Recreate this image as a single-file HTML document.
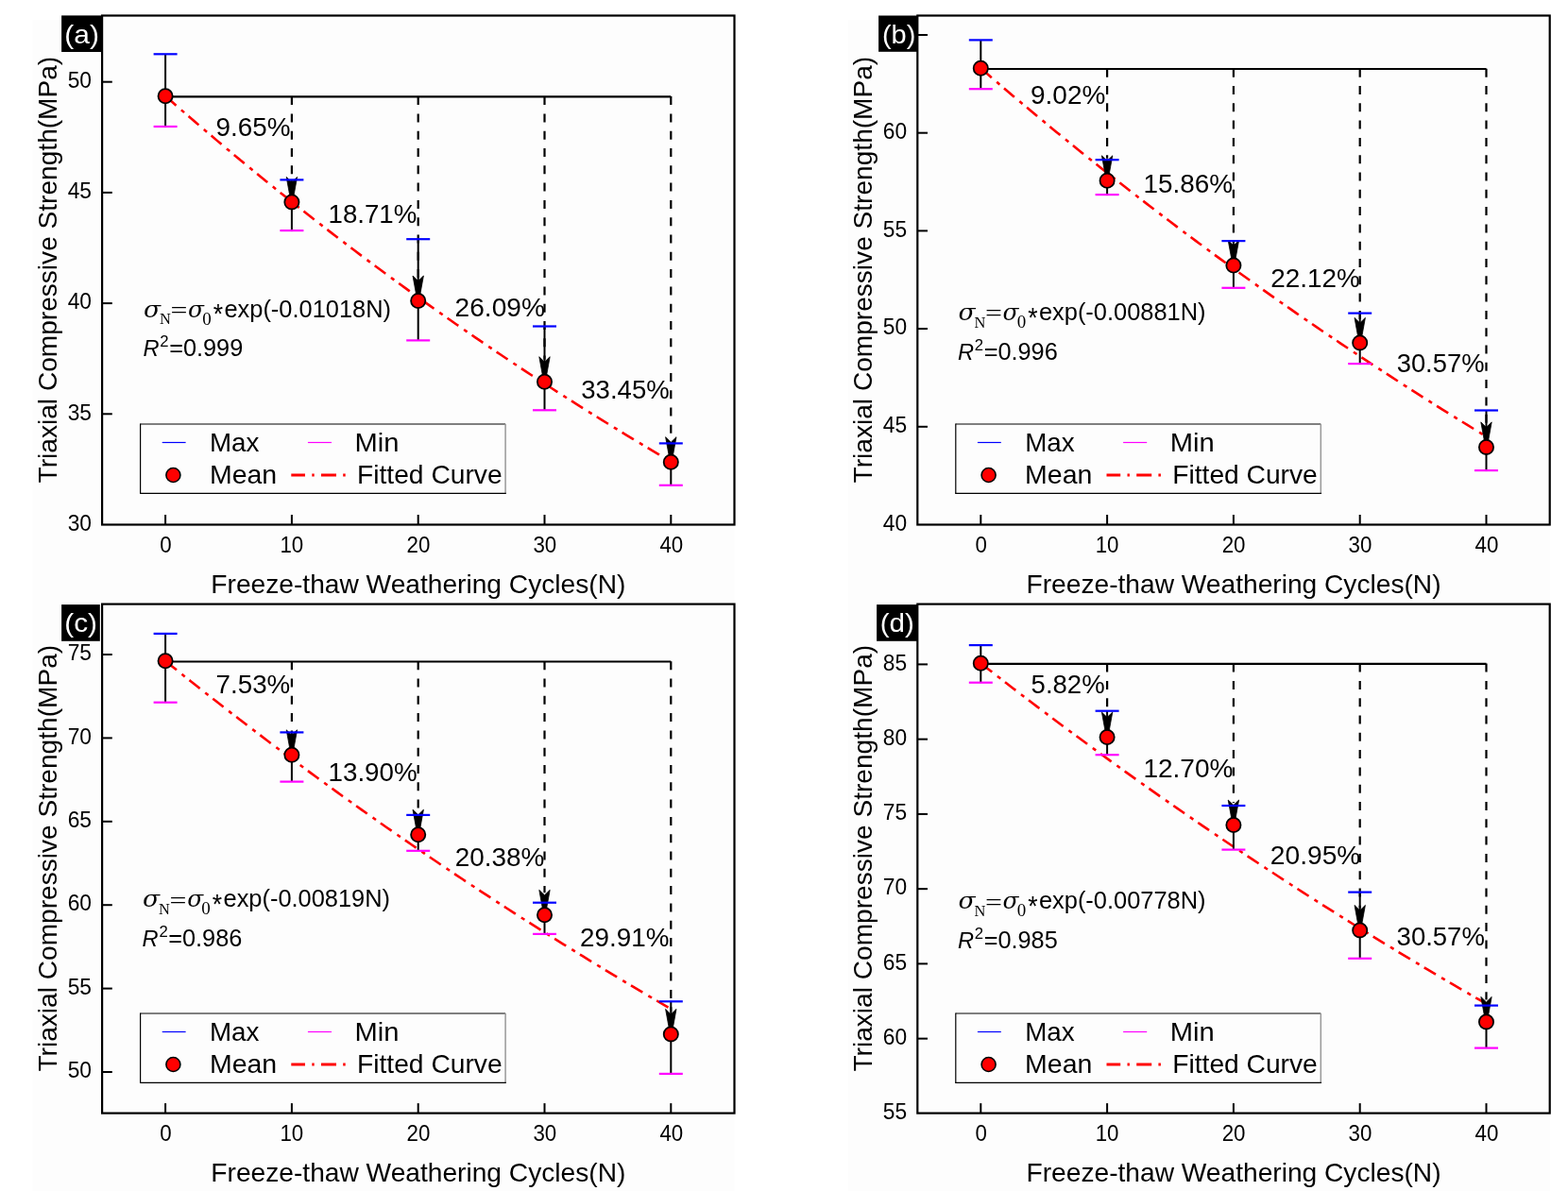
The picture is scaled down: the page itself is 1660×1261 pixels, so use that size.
<!DOCTYPE html>
<html><head><meta charset="utf-8"><title>Triaxial compressive strength vs freeze-thaw cycles</title>
<style>html,body{margin:0;padding:0;background:#fff;}svg{display:block;}</style></head>
<body>
<svg width="1660" height="1261" viewBox="0 0 1660 1261">
<rect width="1660" height="1261" fill="#fff"/>
<rect x="34.5" y="21.0" width="743.0" height="619.0" fill="#fdfdfd"/>
<rect x="897.7" y="21.0" width="743.0" height="619.0" fill="#fdfdfd"/>
<rect x="34.5" y="640.0" width="743.0" height="621.0" fill="#fdfdfd"/>
<rect x="897.7" y="640.0" width="743.0" height="621.0" fill="#fdfdfd"/>
<polyline points="175.10,101.70 181.79,107.57 188.48,113.42 195.17,119.23 201.86,125.02 208.55,130.77 215.24,136.50 221.93,142.20 228.62,147.87 235.31,153.51 242.00,159.12 248.69,164.70 255.38,170.25 262.07,175.78 268.76,181.28 275.45,186.75 282.14,192.19 288.83,197.61 295.52,202.99 302.21,208.35 308.90,213.69 315.59,218.99 322.28,224.27 328.97,229.52 335.66,234.75 342.35,239.95 349.04,245.12 355.73,250.26 362.42,255.38 369.11,260.48 375.80,265.55 382.49,270.59 389.18,275.61 395.87,280.60 402.56,285.56 409.25,290.50 415.94,295.42 422.63,300.31 429.32,305.17 436.01,310.02 442.70,314.83 449.39,319.62 456.08,324.39 462.77,329.14 469.46,333.86 476.15,338.55 482.84,343.22 489.53,347.87 496.22,352.49 502.91,357.10 509.60,361.67 516.29,366.23 522.98,370.76 529.67,375.27 536.36,379.75 543.05,384.21 549.74,388.65 556.43,393.07 563.12,397.47 569.81,401.84 576.50,406.19 583.19,410.52 589.88,414.82 596.57,419.11 603.26,423.37 609.95,427.61 616.64,431.83 623.33,436.03 630.02,440.21 636.71,444.36 643.40,448.50 650.09,452.61 656.78,456.70 663.47,460.77 670.16,464.83 676.85,468.86 683.54,472.87 690.23,476.86 696.92,480.83 703.61,484.77 710.30,488.70" fill="none" stroke="#ff0000" stroke-width="2.6" stroke-dasharray="14.3 7.1 4.2 6" stroke-dashoffset="30.7"/>
<line x1="175.10" y1="102.40" x2="710.30" y2="102.40" stroke="#000" stroke-width="2.2"/>
<line x1="308.90" y1="102.10" x2="308.90" y2="190.40" stroke="#000" stroke-width="2.2" stroke-dasharray="9 9.3"/>
<line x1="442.70" y1="102.10" x2="442.70" y2="295.00" stroke="#000" stroke-width="2.2" stroke-dasharray="9 9.3"/>
<line x1="576.50" y1="102.10" x2="576.50" y2="380.70" stroke="#000" stroke-width="2.2" stroke-dasharray="9 9.3"/>
<line x1="710.30" y1="102.10" x2="710.30" y2="465.70" stroke="#000" stroke-width="2.2" stroke-dasharray="9 9.3"/>
<polygon points="303.20,187.40 308.90,192.90 314.60,187.40 309.50,215.40 308.30,215.40" fill="#000" stroke="#000" stroke-width="0.8" stroke-linejoin="round"/>
<polygon points="437.00,292.00 442.70,297.50 448.40,292.00 443.30,320.00 442.10,320.00" fill="#000" stroke="#000" stroke-width="0.8" stroke-linejoin="round"/>
<polygon points="570.80,377.70 576.50,383.20 582.20,377.70 577.10,405.70 575.90,405.70" fill="#000" stroke="#000" stroke-width="0.8" stroke-linejoin="round"/>
<polygon points="704.60,462.70 710.30,468.20 716.00,462.70 710.90,490.70 709.70,490.70" fill="#000" stroke="#000" stroke-width="0.8" stroke-linejoin="round"/>
<line x1="175.10" y1="57.30" x2="175.10" y2="134.00" stroke="#000" stroke-width="2"/>
<line x1="162.60" y1="57.30" x2="187.60" y2="57.30" stroke="#0000ff" stroke-width="2.2"/>
<line x1="162.60" y1="134.00" x2="187.60" y2="134.00" stroke="#ff00ff" stroke-width="2.2"/>
<line x1="308.90" y1="190.40" x2="308.90" y2="244.10" stroke="#000" stroke-width="2"/>
<line x1="296.40" y1="190.40" x2="321.40" y2="190.40" stroke="#0000ff" stroke-width="2.2"/>
<line x1="296.40" y1="244.10" x2="321.40" y2="244.10" stroke="#ff00ff" stroke-width="2.2"/>
<line x1="442.70" y1="253.20" x2="442.70" y2="360.40" stroke="#000" stroke-width="2"/>
<line x1="430.20" y1="253.20" x2="455.20" y2="253.20" stroke="#0000ff" stroke-width="2.2"/>
<line x1="430.20" y1="360.40" x2="455.20" y2="360.40" stroke="#ff00ff" stroke-width="2.2"/>
<line x1="576.50" y1="345.50" x2="576.50" y2="434.30" stroke="#000" stroke-width="2"/>
<line x1="564.00" y1="345.50" x2="589.00" y2="345.50" stroke="#0000ff" stroke-width="2.2"/>
<line x1="564.00" y1="434.30" x2="589.00" y2="434.30" stroke="#ff00ff" stroke-width="2.2"/>
<line x1="710.30" y1="469.40" x2="710.30" y2="513.80" stroke="#000" stroke-width="2"/>
<line x1="697.80" y1="469.40" x2="722.80" y2="469.40" stroke="#0000ff" stroke-width="2.2"/>
<line x1="697.80" y1="513.80" x2="722.80" y2="513.80" stroke="#ff00ff" stroke-width="2.2"/>
<circle cx="175.10" cy="101.70" r="7.6" fill="#ff0000" stroke="#000" stroke-width="1.8"/>
<circle cx="308.90" cy="213.90" r="7.6" fill="#ff0000" stroke="#000" stroke-width="1.8"/>
<circle cx="442.70" cy="318.50" r="7.6" fill="#ff0000" stroke="#000" stroke-width="1.8"/>
<circle cx="576.50" cy="404.20" r="7.6" fill="#ff0000" stroke="#000" stroke-width="1.8"/>
<circle cx="710.30" cy="489.20" r="7.6" fill="#ff0000" stroke="#000" stroke-width="1.8"/>
<rect x="108.10" y="16.50" width="669.40" height="539.00" fill="none" stroke="#000" stroke-width="2.2"/>
<line x1="175.10" y1="555.50" x2="175.10" y2="545.00" stroke="#000" stroke-width="2"/>
<line x1="308.90" y1="555.50" x2="308.90" y2="545.00" stroke="#000" stroke-width="2"/>
<line x1="442.70" y1="555.50" x2="442.70" y2="545.00" stroke="#000" stroke-width="2"/>
<line x1="576.50" y1="555.50" x2="576.50" y2="545.00" stroke="#000" stroke-width="2"/>
<line x1="710.30" y1="555.50" x2="710.30" y2="545.00" stroke="#000" stroke-width="2"/>
<line x1="108.10" y1="438.30" x2="118.80" y2="438.30" stroke="#000" stroke-width="2"/>
<line x1="108.10" y1="321.10" x2="118.80" y2="321.10" stroke="#000" stroke-width="2"/>
<line x1="108.10" y1="203.90" x2="118.80" y2="203.90" stroke="#000" stroke-width="2"/>
<line x1="108.10" y1="86.70" x2="118.80" y2="86.70" stroke="#000" stroke-width="2"/>
<text x="71.64" y="561.70" font-family='"Liberation Sans", Arial, sans-serif' font-size="23.00" fill="#000" textLength="25.33" lengthAdjust="spacingAndGlyphs">30</text>
<text x="71.64" y="444.50" font-family='"Liberation Sans", Arial, sans-serif' font-size="23.00" fill="#000" textLength="25.33" lengthAdjust="spacingAndGlyphs">35</text>
<text x="71.64" y="327.30" font-family='"Liberation Sans", Arial, sans-serif' font-size="23.00" fill="#000" textLength="25.33" lengthAdjust="spacingAndGlyphs">40</text>
<text x="71.64" y="210.10" font-family='"Liberation Sans", Arial, sans-serif' font-size="23.00" fill="#000" textLength="25.33" lengthAdjust="spacingAndGlyphs">45</text>
<text x="71.64" y="92.90" font-family='"Liberation Sans", Arial, sans-serif' font-size="23.00" fill="#000" textLength="25.33" lengthAdjust="spacingAndGlyphs">50</text>
<text x="169.21" y="585.30" font-family='"Liberation Sans", Arial, sans-serif' font-size="23.00" fill="#000" textLength="12.41" lengthAdjust="spacingAndGlyphs">0</text>
<text x="296.43" y="585.30" font-family='"Liberation Sans", Arial, sans-serif' font-size="23.00" fill="#000" textLength="24.82" lengthAdjust="spacingAndGlyphs">10</text>
<text x="430.51" y="585.30" font-family='"Liberation Sans", Arial, sans-serif' font-size="23.00" fill="#000" textLength="24.82" lengthAdjust="spacingAndGlyphs">20</text>
<text x="564.42" y="585.30" font-family='"Liberation Sans", Arial, sans-serif' font-size="23.00" fill="#000" textLength="24.82" lengthAdjust="spacingAndGlyphs">30</text>
<text x="698.39" y="585.30" font-family='"Liberation Sans", Arial, sans-serif' font-size="23.00" fill="#000" textLength="24.82" lengthAdjust="spacingAndGlyphs">40</text>
<text x="223.35" y="627.90" font-family='"Liberation Sans", Arial, sans-serif' font-size="27.60" fill="#000" textLength="439.03" lengthAdjust="spacingAndGlyphs">Freeze-thaw Weathering Cycles(N)</text>
<text transform="rotate(-90)" x="-511.40" y="59.80" font-family='"Liberation Sans", Arial, sans-serif' font-size="27.60" fill="#000" textLength="451.61" lengthAdjust="spacingAndGlyphs">Triaxial Compressive Strength(MPa)</text>
<rect x="65.10" y="16.40" width="43.20" height="38.60" fill="#000"/>
<text x="68.31" y="45.90" font-family='"Liberation Sans", Arial, sans-serif' font-size="27.90" fill="#fff" textLength="36.56" lengthAdjust="spacingAndGlyphs">(a)</text>
<text x="228.55" y="143.90" font-family='"Liberation Sans", Arial, sans-serif' font-size="27.70" fill="#000" textLength="78.94" lengthAdjust="spacingAndGlyphs">9.65%</text>
<text x="347.53" y="236.30" font-family='"Liberation Sans", Arial, sans-serif' font-size="27.70" fill="#000" textLength="93.75" lengthAdjust="spacingAndGlyphs">18.71%</text>
<text x="481.60" y="335.10" font-family='"Liberation Sans", Arial, sans-serif' font-size="27.70" fill="#000" textLength="95.29" lengthAdjust="spacingAndGlyphs">26.09%</text>
<text x="615.30" y="421.80" font-family='"Liberation Sans", Arial, sans-serif' font-size="27.70" fill="#000" textLength="93.37" lengthAdjust="spacingAndGlyphs">33.45%</text>
<text x="152.01" y="335.80" font-family='"DejaVu Serif", serif' font-size="23.80" font-style="italic" fill="#000" textLength="18.10" lengthAdjust="spacingAndGlyphs">σ</text>
<text x="168.91" y="343.40" font-family='"Liberation Serif", "Times New Roman", serif' font-size="16.30" fill="#000" textLength="11.86" lengthAdjust="spacingAndGlyphs">N</text>
<text x="180.41" y="337.00" font-family='"Liberation Serif", "Times New Roman", serif' font-size="26.00" fill="#000" textLength="17.95" lengthAdjust="spacingAndGlyphs">=</text>
<text x="199.08" y="335.80" font-family='"DejaVu Serif", serif' font-size="23.80" font-style="italic" fill="#000" textLength="16.96" lengthAdjust="spacingAndGlyphs">σ</text>
<text x="214.24" y="343.80" font-family='"Liberation Serif", "Times New Roman", serif' font-size="18.00" fill="#000" textLength="9.52" lengthAdjust="spacingAndGlyphs">0</text>
<text x="225.77" y="342.20" font-family='"Liberation Sans", Arial, sans-serif' font-size="30.00" fill="#000" textLength="10.34" lengthAdjust="spacingAndGlyphs">*</text>
<text x="237.46" y="335.80" font-family='"Liberation Sans", Arial, sans-serif' font-size="25.40" fill="#000" textLength="176.49" lengthAdjust="spacingAndGlyphs">exp(-0.01018N)</text>
<text x="151.39" y="376.70" font-family='"Liberation Sans", Arial, sans-serif' font-size="24.50" font-style="italic" fill="#000" textLength="17.07" lengthAdjust="spacingAndGlyphs">R</text>
<text x="169.36" y="367.00" font-family='"Liberation Sans", Arial, sans-serif' font-size="17.40" fill="#000" textLength="9.29" lengthAdjust="spacingAndGlyphs">2</text>
<text x="179.14" y="377.00" font-family='"Liberation Sans", Arial, sans-serif' font-size="25.30" fill="#000" textLength="78.09" lengthAdjust="spacingAndGlyphs">=0.999</text>
<line x1="148.60" y1="449.00" x2="535.10" y2="449.00" stroke="#555" stroke-width="1.5"/>
<line x1="535.10" y1="449.00" x2="535.10" y2="522.40" stroke="#999" stroke-width="1.5"/>
<line x1="148.60" y1="448.40" x2="148.60" y2="522.40" stroke="#000" stroke-width="1.2"/>
<line x1="148.00" y1="522.40" x2="535.80" y2="522.40" stroke="#000" stroke-width="1.3"/>
<line x1="171.70" y1="468.50" x2="196.60" y2="468.50" stroke="#0000ff" stroke-width="1.2"/>
<line x1="325.90" y1="468.50" x2="351.00" y2="468.50" stroke="#ff00ff" stroke-width="1.2"/>
<circle cx="183.40" cy="503.00" r="7.5" fill="#ff0000" stroke="#000" stroke-width="1.6"/>
<line x1="308.30" y1="503.00" x2="323.00" y2="503.00" stroke="#ff0000" stroke-width="3"/>
<line x1="330.30" y1="503.00" x2="332.70" y2="503.00" stroke="#ff0000" stroke-width="3"/>
<line x1="340.00" y1="503.00" x2="356.00" y2="503.00" stroke="#ff0000" stroke-width="3"/>
<line x1="363.20" y1="503.00" x2="365.70" y2="503.00" stroke="#ff0000" stroke-width="3"/>
<text x="221.98" y="477.80" font-family='"Liberation Sans", Arial, sans-serif' font-size="27.40" fill="#000" textLength="52.48" lengthAdjust="spacingAndGlyphs">Max</text>
<text x="375.57" y="477.80" font-family='"Liberation Sans", Arial, sans-serif' font-size="27.40" fill="#000" textLength="46.97" lengthAdjust="spacingAndGlyphs">Min</text>
<text x="221.92" y="512.00" font-family='"Liberation Sans", Arial, sans-serif' font-size="27.40" fill="#000" textLength="71.28" lengthAdjust="spacingAndGlyphs">Mean</text>
<text x="378.04" y="512.00" font-family='"Liberation Sans", Arial, sans-serif' font-size="27.40" fill="#000" textLength="153.56" lengthAdjust="spacingAndGlyphs">Fitted Curve</text>
<polyline points="1038.30,72.30 1044.99,78.07 1051.68,83.81 1058.37,89.53 1065.06,95.23 1071.75,100.90 1078.44,106.54 1085.13,112.16 1091.82,117.76 1098.51,123.33 1105.20,128.87 1111.89,134.40 1118.58,139.89 1125.27,145.37 1131.96,150.81 1138.65,156.24 1145.34,161.64 1152.03,167.02 1158.72,172.37 1165.41,177.70 1172.10,183.01 1178.79,188.29 1185.48,193.55 1192.17,198.79 1198.86,204.00 1205.55,209.20 1212.24,214.36 1218.93,219.51 1225.62,224.63 1232.31,229.73 1239.00,234.81 1245.69,239.87 1252.38,244.90 1259.07,249.91 1265.76,254.90 1272.45,259.87 1279.14,264.82 1285.83,269.74 1292.52,274.64 1299.21,279.52 1305.90,284.38 1312.59,289.22 1319.28,294.04 1325.97,298.83 1332.66,303.61 1339.35,308.36 1346.04,313.09 1352.73,317.81 1359.42,322.50 1366.11,327.17 1372.80,331.82 1379.49,336.45 1386.18,341.06 1392.87,345.64 1399.56,350.21 1406.25,354.76 1412.94,359.29 1419.63,363.80 1426.32,368.29 1433.01,372.76 1439.70,377.21 1446.39,381.64 1453.08,386.05 1459.77,390.44 1466.46,394.81 1473.15,399.16 1479.84,403.50 1486.53,407.81 1493.22,412.11 1499.91,416.38 1506.60,420.64 1513.29,424.88 1519.98,429.10 1526.67,433.30 1533.36,437.49 1540.05,441.65 1546.74,445.80 1553.43,449.93 1560.12,454.04 1566.81,458.13 1573.50,462.20" fill="none" stroke="#ff0000" stroke-width="2.6" stroke-dasharray="14.3 7.1 4.2 6" stroke-dashoffset="30.7"/>
<line x1="1038.30" y1="73.00" x2="1573.50" y2="73.00" stroke="#000" stroke-width="2.2"/>
<line x1="1172.10" y1="72.70" x2="1172.10" y2="167.80" stroke="#000" stroke-width="2.2" stroke-dasharray="9 9.3"/>
<line x1="1305.90" y1="72.70" x2="1305.90" y2="257.50" stroke="#000" stroke-width="2.2" stroke-dasharray="9 9.3"/>
<line x1="1439.70" y1="72.70" x2="1439.70" y2="339.40" stroke="#000" stroke-width="2.2" stroke-dasharray="9 9.3"/>
<line x1="1573.50" y1="72.70" x2="1573.50" y2="449.90" stroke="#000" stroke-width="2.2" stroke-dasharray="9 9.3"/>
<polygon points="1166.40,164.80 1172.10,170.30 1177.80,164.80 1172.70,192.80 1171.50,192.80" fill="#000" stroke="#000" stroke-width="0.8" stroke-linejoin="round"/>
<polygon points="1300.20,254.50 1305.90,260.00 1311.60,254.50 1306.50,282.50 1305.30,282.50" fill="#000" stroke="#000" stroke-width="0.8" stroke-linejoin="round"/>
<polygon points="1434.00,336.40 1439.70,341.90 1445.40,336.40 1440.30,364.40 1439.10,364.40" fill="#000" stroke="#000" stroke-width="0.8" stroke-linejoin="round"/>
<polygon points="1567.80,446.90 1573.50,452.40 1579.20,446.90 1574.10,474.90 1572.90,474.90" fill="#000" stroke="#000" stroke-width="0.8" stroke-linejoin="round"/>
<line x1="1038.30" y1="42.40" x2="1038.30" y2="94.20" stroke="#000" stroke-width="2"/>
<line x1="1025.80" y1="42.40" x2="1050.80" y2="42.40" stroke="#0000ff" stroke-width="2.2"/>
<line x1="1025.80" y1="94.20" x2="1050.80" y2="94.20" stroke="#ff00ff" stroke-width="2.2"/>
<line x1="1172.10" y1="169.20" x2="1172.10" y2="206.10" stroke="#000" stroke-width="2"/>
<line x1="1159.60" y1="169.20" x2="1184.60" y2="169.20" stroke="#0000ff" stroke-width="2.2"/>
<line x1="1159.60" y1="206.10" x2="1184.60" y2="206.10" stroke="#ff00ff" stroke-width="2.2"/>
<line x1="1305.90" y1="255.10" x2="1305.90" y2="304.80" stroke="#000" stroke-width="2"/>
<line x1="1293.40" y1="255.10" x2="1318.40" y2="255.10" stroke="#0000ff" stroke-width="2.2"/>
<line x1="1293.40" y1="304.80" x2="1318.40" y2="304.80" stroke="#ff00ff" stroke-width="2.2"/>
<line x1="1439.70" y1="331.60" x2="1439.70" y2="385.10" stroke="#000" stroke-width="2"/>
<line x1="1427.20" y1="331.60" x2="1452.20" y2="331.60" stroke="#0000ff" stroke-width="2.2"/>
<line x1="1427.20" y1="385.10" x2="1452.20" y2="385.10" stroke="#ff00ff" stroke-width="2.2"/>
<line x1="1573.50" y1="434.50" x2="1573.50" y2="498.10" stroke="#000" stroke-width="2"/>
<line x1="1561.00" y1="434.50" x2="1586.00" y2="434.50" stroke="#0000ff" stroke-width="2.2"/>
<line x1="1561.00" y1="498.10" x2="1586.00" y2="498.10" stroke="#ff00ff" stroke-width="2.2"/>
<circle cx="1038.30" cy="72.30" r="7.6" fill="#ff0000" stroke="#000" stroke-width="1.8"/>
<circle cx="1172.10" cy="191.30" r="7.6" fill="#ff0000" stroke="#000" stroke-width="1.8"/>
<circle cx="1305.90" cy="281.00" r="7.6" fill="#ff0000" stroke="#000" stroke-width="1.8"/>
<circle cx="1439.70" cy="362.90" r="7.6" fill="#ff0000" stroke="#000" stroke-width="1.8"/>
<circle cx="1573.50" cy="473.40" r="7.6" fill="#ff0000" stroke="#000" stroke-width="1.8"/>
<rect x="971.30" y="16.50" width="669.40" height="539.00" fill="none" stroke="#000" stroke-width="2.2"/>
<line x1="1038.30" y1="555.50" x2="1038.30" y2="545.00" stroke="#000" stroke-width="2"/>
<line x1="1172.10" y1="555.50" x2="1172.10" y2="545.00" stroke="#000" stroke-width="2"/>
<line x1="1305.90" y1="555.50" x2="1305.90" y2="545.00" stroke="#000" stroke-width="2"/>
<line x1="1439.70" y1="555.50" x2="1439.70" y2="545.00" stroke="#000" stroke-width="2"/>
<line x1="1573.50" y1="555.50" x2="1573.50" y2="545.00" stroke="#000" stroke-width="2"/>
<line x1="971.30" y1="451.80" x2="982.00" y2="451.80" stroke="#000" stroke-width="2"/>
<line x1="971.30" y1="348.10" x2="982.00" y2="348.10" stroke="#000" stroke-width="2"/>
<line x1="971.30" y1="244.40" x2="982.00" y2="244.40" stroke="#000" stroke-width="2"/>
<line x1="971.30" y1="140.70" x2="982.00" y2="140.70" stroke="#000" stroke-width="2"/>
<line x1="971.30" y1="37.00" x2="982.00" y2="37.00" stroke="#000" stroke-width="2"/>
<text x="934.84" y="561.70" font-family='"Liberation Sans", Arial, sans-serif' font-size="23.00" fill="#000" textLength="25.33" lengthAdjust="spacingAndGlyphs">40</text>
<text x="934.84" y="458.00" font-family='"Liberation Sans", Arial, sans-serif' font-size="23.00" fill="#000" textLength="25.33" lengthAdjust="spacingAndGlyphs">45</text>
<text x="934.84" y="354.30" font-family='"Liberation Sans", Arial, sans-serif' font-size="23.00" fill="#000" textLength="25.33" lengthAdjust="spacingAndGlyphs">50</text>
<text x="934.84" y="250.60" font-family='"Liberation Sans", Arial, sans-serif' font-size="23.00" fill="#000" textLength="25.33" lengthAdjust="spacingAndGlyphs">55</text>
<text x="934.84" y="146.90" font-family='"Liberation Sans", Arial, sans-serif' font-size="23.00" fill="#000" textLength="25.33" lengthAdjust="spacingAndGlyphs">60</text>
<text x="934.84" y="43.20" font-family='"Liberation Sans", Arial, sans-serif' font-size="23.00" fill="#000" textLength="25.33" lengthAdjust="spacingAndGlyphs">65</text>
<text x="1032.41" y="585.30" font-family='"Liberation Sans", Arial, sans-serif' font-size="23.00" fill="#000" textLength="12.41" lengthAdjust="spacingAndGlyphs">0</text>
<text x="1159.63" y="585.30" font-family='"Liberation Sans", Arial, sans-serif' font-size="23.00" fill="#000" textLength="24.82" lengthAdjust="spacingAndGlyphs">10</text>
<text x="1293.71" y="585.30" font-family='"Liberation Sans", Arial, sans-serif' font-size="23.00" fill="#000" textLength="24.82" lengthAdjust="spacingAndGlyphs">20</text>
<text x="1427.62" y="585.30" font-family='"Liberation Sans", Arial, sans-serif' font-size="23.00" fill="#000" textLength="24.82" lengthAdjust="spacingAndGlyphs">30</text>
<text x="1561.59" y="585.30" font-family='"Liberation Sans", Arial, sans-serif' font-size="23.00" fill="#000" textLength="24.82" lengthAdjust="spacingAndGlyphs">40</text>
<text x="1086.55" y="627.90" font-family='"Liberation Sans", Arial, sans-serif' font-size="27.60" fill="#000" textLength="439.03" lengthAdjust="spacingAndGlyphs">Freeze-thaw Weathering Cycles(N)</text>
<text transform="rotate(-90)" x="-511.40" y="923.00" font-family='"Liberation Sans", Arial, sans-serif' font-size="27.60" fill="#000" textLength="451.61" lengthAdjust="spacingAndGlyphs">Triaxial Compressive Strength(MPa)</text>
<rect x="930.10" y="16.50" width="41.40" height="38.30" fill="#000"/>
<text x="933.96" y="45.90" font-family='"Liberation Sans", Arial, sans-serif' font-size="27.90" fill="#fff" textLength="35.45" lengthAdjust="spacingAndGlyphs">(b)</text>
<text x="1091.04" y="110.10" font-family='"Liberation Sans", Arial, sans-serif' font-size="27.70" fill="#000" textLength="79.35" lengthAdjust="spacingAndGlyphs">9.02%</text>
<text x="1210.41" y="204.10" font-family='"Liberation Sans", Arial, sans-serif' font-size="27.70" fill="#000" textLength="94.57" lengthAdjust="spacingAndGlyphs">15.86%</text>
<text x="1345.21" y="303.50" font-family='"Liberation Sans", Arial, sans-serif' font-size="27.70" fill="#000" textLength="94.47" lengthAdjust="spacingAndGlyphs">22.12%</text>
<text x="1478.71" y="394.00" font-family='"Liberation Sans", Arial, sans-serif' font-size="27.70" fill="#000" textLength="92.76" lengthAdjust="spacingAndGlyphs">30.57%</text>
<text x="1014.51" y="339.20" font-family='"DejaVu Serif", serif' font-size="23.80" font-style="italic" fill="#000" textLength="18.10" lengthAdjust="spacingAndGlyphs">σ</text>
<text x="1031.41" y="346.80" font-family='"Liberation Serif", "Times New Roman", serif' font-size="16.30" fill="#000" textLength="11.86" lengthAdjust="spacingAndGlyphs">N</text>
<text x="1042.91" y="340.40" font-family='"Liberation Serif", "Times New Roman", serif' font-size="26.00" fill="#000" textLength="17.95" lengthAdjust="spacingAndGlyphs">=</text>
<text x="1061.58" y="339.20" font-family='"DejaVu Serif", serif' font-size="23.80" font-style="italic" fill="#000" textLength="16.96" lengthAdjust="spacingAndGlyphs">σ</text>
<text x="1076.74" y="347.20" font-family='"Liberation Serif", "Times New Roman", serif' font-size="18.00" fill="#000" textLength="9.52" lengthAdjust="spacingAndGlyphs">0</text>
<text x="1088.27" y="345.60" font-family='"Liberation Sans", Arial, sans-serif' font-size="30.00" fill="#000" textLength="10.34" lengthAdjust="spacingAndGlyphs">*</text>
<text x="1099.96" y="339.20" font-family='"Liberation Sans", Arial, sans-serif' font-size="25.40" fill="#000" textLength="176.49" lengthAdjust="spacingAndGlyphs">exp(-0.00881N)</text>
<text x="1013.89" y="380.50" font-family='"Liberation Sans", Arial, sans-serif' font-size="24.50" font-style="italic" fill="#000" textLength="17.07" lengthAdjust="spacingAndGlyphs">R</text>
<text x="1031.86" y="370.80" font-family='"Liberation Sans", Arial, sans-serif' font-size="17.40" fill="#000" textLength="9.29" lengthAdjust="spacingAndGlyphs">2</text>
<text x="1041.63" y="380.80" font-family='"Liberation Sans", Arial, sans-serif' font-size="25.30" fill="#000" textLength="78.09" lengthAdjust="spacingAndGlyphs">=0.996</text>
<line x1="1011.80" y1="449.00" x2="1398.30" y2="449.00" stroke="#555" stroke-width="1.5"/>
<line x1="1398.30" y1="449.00" x2="1398.30" y2="522.40" stroke="#999" stroke-width="1.5"/>
<line x1="1011.80" y1="448.40" x2="1011.80" y2="522.40" stroke="#000" stroke-width="1.2"/>
<line x1="1011.20" y1="522.40" x2="1399.00" y2="522.40" stroke="#000" stroke-width="1.3"/>
<line x1="1034.90" y1="468.50" x2="1059.80" y2="468.50" stroke="#0000ff" stroke-width="1.2"/>
<line x1="1189.10" y1="468.50" x2="1214.20" y2="468.50" stroke="#ff00ff" stroke-width="1.2"/>
<circle cx="1046.60" cy="503.00" r="7.5" fill="#ff0000" stroke="#000" stroke-width="1.6"/>
<line x1="1171.50" y1="503.00" x2="1186.20" y2="503.00" stroke="#ff0000" stroke-width="3"/>
<line x1="1193.50" y1="503.00" x2="1195.90" y2="503.00" stroke="#ff0000" stroke-width="3"/>
<line x1="1203.20" y1="503.00" x2="1219.20" y2="503.00" stroke="#ff0000" stroke-width="3"/>
<line x1="1226.40" y1="503.00" x2="1228.90" y2="503.00" stroke="#ff0000" stroke-width="3"/>
<text x="1085.18" y="477.80" font-family='"Liberation Sans", Arial, sans-serif' font-size="27.40" fill="#000" textLength="52.48" lengthAdjust="spacingAndGlyphs">Max</text>
<text x="1238.77" y="477.80" font-family='"Liberation Sans", Arial, sans-serif' font-size="27.40" fill="#000" textLength="46.97" lengthAdjust="spacingAndGlyphs">Min</text>
<text x="1085.12" y="512.00" font-family='"Liberation Sans", Arial, sans-serif' font-size="27.40" fill="#000" textLength="71.28" lengthAdjust="spacingAndGlyphs">Mean</text>
<text x="1241.24" y="512.00" font-family='"Liberation Sans", Arial, sans-serif' font-size="27.40" fill="#000" textLength="153.56" lengthAdjust="spacingAndGlyphs">Fitted Curve</text>
<polyline points="175.10,699.80 181.79,705.19 188.48,710.56 195.17,715.91 201.86,721.23 208.55,726.54 215.24,731.82 221.93,737.08 228.62,742.32 235.31,747.53 242.00,752.73 248.69,757.90 255.38,763.06 262.07,768.19 268.76,773.30 275.45,778.39 282.14,783.46 288.83,788.51 295.52,793.54 302.21,798.55 308.90,803.54 315.59,808.50 322.28,813.45 328.97,818.38 335.66,823.28 342.35,828.17 349.04,833.04 355.73,837.88 362.42,842.71 369.11,847.52 375.80,852.30 382.49,857.07 389.18,861.82 395.87,866.55 402.56,871.26 409.25,875.95 415.94,880.62 422.63,885.27 429.32,889.91 436.01,894.52 442.70,899.12 449.39,903.69 456.08,908.25 462.77,912.79 469.46,917.31 476.15,921.81 482.84,926.30 489.53,930.76 496.22,935.21 502.91,939.64 509.60,944.05 516.29,948.44 522.98,952.82 529.67,957.17 536.36,961.51 543.05,965.83 549.74,970.14 556.43,974.42 563.12,978.69 569.81,982.94 576.50,987.18 583.19,991.40 589.88,995.59 596.57,999.78 603.26,1003.94 609.95,1008.09 616.64,1012.22 623.33,1016.34 630.02,1020.43 636.71,1024.51 643.40,1028.58 650.09,1032.63 656.78,1036.66 663.47,1040.67 670.16,1044.67 676.85,1048.65 683.54,1052.62 690.23,1056.57 696.92,1060.50 703.61,1064.42 710.30,1068.32" fill="none" stroke="#ff0000" stroke-width="2.6" stroke-dasharray="14.3 7.1 4.2 6" stroke-dashoffset="30.7"/>
<line x1="175.10" y1="700.50" x2="710.30" y2="700.50" stroke="#000" stroke-width="2.2"/>
<line x1="308.90" y1="700.20" x2="308.90" y2="775.80" stroke="#000" stroke-width="2.2" stroke-dasharray="9 9.3"/>
<line x1="442.70" y1="700.20" x2="442.70" y2="860.20" stroke="#000" stroke-width="2.2" stroke-dasharray="9 9.3"/>
<line x1="576.50" y1="700.20" x2="576.50" y2="945.30" stroke="#000" stroke-width="2.2" stroke-dasharray="9 9.3"/>
<line x1="710.30" y1="700.20" x2="710.30" y2="1071.40" stroke="#000" stroke-width="2.2" stroke-dasharray="9 9.3"/>
<polygon points="303.20,772.80 308.90,778.30 314.60,772.80 309.50,800.80 308.30,800.80" fill="#000" stroke="#000" stroke-width="0.8" stroke-linejoin="round"/>
<polygon points="437.00,857.20 442.70,862.70 448.40,857.20 443.30,885.20 442.10,885.20" fill="#000" stroke="#000" stroke-width="0.8" stroke-linejoin="round"/>
<polygon points="570.80,942.30 576.50,947.80 582.20,942.30 577.10,970.30 575.90,970.30" fill="#000" stroke="#000" stroke-width="0.8" stroke-linejoin="round"/>
<polygon points="704.60,1068.40 710.30,1073.90 716.00,1068.40 710.90,1096.40 709.70,1096.40" fill="#000" stroke="#000" stroke-width="0.8" stroke-linejoin="round"/>
<line x1="175.10" y1="670.90" x2="175.10" y2="743.70" stroke="#000" stroke-width="2"/>
<line x1="162.60" y1="670.90" x2="187.60" y2="670.90" stroke="#0000ff" stroke-width="2.2"/>
<line x1="162.60" y1="743.70" x2="187.60" y2="743.70" stroke="#ff00ff" stroke-width="2.2"/>
<line x1="308.90" y1="775.40" x2="308.90" y2="827.60" stroke="#000" stroke-width="2"/>
<line x1="296.40" y1="775.40" x2="321.40" y2="775.40" stroke="#0000ff" stroke-width="2.2"/>
<line x1="296.40" y1="827.60" x2="321.40" y2="827.60" stroke="#ff00ff" stroke-width="2.2"/>
<line x1="442.70" y1="862.90" x2="442.70" y2="900.80" stroke="#000" stroke-width="2"/>
<line x1="430.20" y1="862.90" x2="455.20" y2="862.90" stroke="#0000ff" stroke-width="2.2"/>
<line x1="430.20" y1="900.80" x2="455.20" y2="900.80" stroke="#ff00ff" stroke-width="2.2"/>
<line x1="576.50" y1="955.70" x2="576.50" y2="988.90" stroke="#000" stroke-width="2"/>
<line x1="564.00" y1="955.70" x2="589.00" y2="955.70" stroke="#0000ff" stroke-width="2.2"/>
<line x1="564.00" y1="988.90" x2="589.00" y2="988.90" stroke="#ff00ff" stroke-width="2.2"/>
<line x1="710.30" y1="1060.30" x2="710.30" y2="1136.90" stroke="#000" stroke-width="2"/>
<line x1="697.80" y1="1060.30" x2="722.80" y2="1060.30" stroke="#0000ff" stroke-width="2.2"/>
<line x1="697.80" y1="1136.90" x2="722.80" y2="1136.90" stroke="#ff00ff" stroke-width="2.2"/>
<circle cx="175.10" cy="699.80" r="7.6" fill="#ff0000" stroke="#000" stroke-width="1.8"/>
<circle cx="308.90" cy="799.30" r="7.6" fill="#ff0000" stroke="#000" stroke-width="1.8"/>
<circle cx="442.70" cy="883.70" r="7.6" fill="#ff0000" stroke="#000" stroke-width="1.8"/>
<circle cx="576.50" cy="968.80" r="7.6" fill="#ff0000" stroke="#000" stroke-width="1.8"/>
<circle cx="710.30" cy="1094.90" r="7.6" fill="#ff0000" stroke="#000" stroke-width="1.8"/>
<rect x="108.10" y="639.60" width="669.40" height="539.00" fill="none" stroke="#000" stroke-width="2.2"/>
<line x1="175.10" y1="1178.60" x2="175.10" y2="1168.10" stroke="#000" stroke-width="2"/>
<line x1="308.90" y1="1178.60" x2="308.90" y2="1168.10" stroke="#000" stroke-width="2"/>
<line x1="442.70" y1="1178.60" x2="442.70" y2="1168.10" stroke="#000" stroke-width="2"/>
<line x1="576.50" y1="1178.60" x2="576.50" y2="1168.10" stroke="#000" stroke-width="2"/>
<line x1="710.30" y1="1178.60" x2="710.30" y2="1168.10" stroke="#000" stroke-width="2"/>
<line x1="108.10" y1="1135.00" x2="118.80" y2="1135.00" stroke="#000" stroke-width="2"/>
<line x1="108.10" y1="1046.60" x2="118.80" y2="1046.60" stroke="#000" stroke-width="2"/>
<line x1="108.10" y1="958.20" x2="118.80" y2="958.20" stroke="#000" stroke-width="2"/>
<line x1="108.10" y1="869.80" x2="118.80" y2="869.80" stroke="#000" stroke-width="2"/>
<line x1="108.10" y1="781.40" x2="118.80" y2="781.40" stroke="#000" stroke-width="2"/>
<line x1="108.10" y1="693.00" x2="118.80" y2="693.00" stroke="#000" stroke-width="2"/>
<text x="71.64" y="1141.20" font-family='"Liberation Sans", Arial, sans-serif' font-size="23.00" fill="#000" textLength="25.33" lengthAdjust="spacingAndGlyphs">50</text>
<text x="71.64" y="1052.80" font-family='"Liberation Sans", Arial, sans-serif' font-size="23.00" fill="#000" textLength="25.33" lengthAdjust="spacingAndGlyphs">55</text>
<text x="71.64" y="964.40" font-family='"Liberation Sans", Arial, sans-serif' font-size="23.00" fill="#000" textLength="25.33" lengthAdjust="spacingAndGlyphs">60</text>
<text x="71.64" y="876.00" font-family='"Liberation Sans", Arial, sans-serif' font-size="23.00" fill="#000" textLength="25.33" lengthAdjust="spacingAndGlyphs">65</text>
<text x="71.64" y="787.60" font-family='"Liberation Sans", Arial, sans-serif' font-size="23.00" fill="#000" textLength="25.33" lengthAdjust="spacingAndGlyphs">70</text>
<text x="71.64" y="699.20" font-family='"Liberation Sans", Arial, sans-serif' font-size="23.00" fill="#000" textLength="25.33" lengthAdjust="spacingAndGlyphs">75</text>
<text x="169.21" y="1208.40" font-family='"Liberation Sans", Arial, sans-serif' font-size="23.00" fill="#000" textLength="12.41" lengthAdjust="spacingAndGlyphs">0</text>
<text x="296.43" y="1208.40" font-family='"Liberation Sans", Arial, sans-serif' font-size="23.00" fill="#000" textLength="24.82" lengthAdjust="spacingAndGlyphs">10</text>
<text x="430.51" y="1208.40" font-family='"Liberation Sans", Arial, sans-serif' font-size="23.00" fill="#000" textLength="24.82" lengthAdjust="spacingAndGlyphs">20</text>
<text x="564.42" y="1208.40" font-family='"Liberation Sans", Arial, sans-serif' font-size="23.00" fill="#000" textLength="24.82" lengthAdjust="spacingAndGlyphs">30</text>
<text x="698.39" y="1208.40" font-family='"Liberation Sans", Arial, sans-serif' font-size="23.00" fill="#000" textLength="24.82" lengthAdjust="spacingAndGlyphs">40</text>
<text x="223.35" y="1251.00" font-family='"Liberation Sans", Arial, sans-serif' font-size="27.60" fill="#000" textLength="439.03" lengthAdjust="spacingAndGlyphs">Freeze-thaw Weathering Cycles(N)</text>
<text transform="rotate(-90)" x="-1134.50" y="59.80" font-family='"Liberation Sans", Arial, sans-serif' font-size="27.60" fill="#000" textLength="451.61" lengthAdjust="spacingAndGlyphs">Triaxial Compressive Strength(MPa)</text>
<rect x="65.10" y="640.10" width="40.70" height="38.70" fill="#000"/>
<text x="68.31" y="668.90" font-family='"Liberation Sans", Arial, sans-serif' font-size="27.90" fill="#fff" textLength="34.70" lengthAdjust="spacingAndGlyphs">(c)</text>
<text x="228.61" y="733.50" font-family='"Liberation Sans", Arial, sans-serif' font-size="27.70" fill="#000" textLength="78.67" lengthAdjust="spacingAndGlyphs">7.53%</text>
<text x="347.52" y="827.20" font-family='"Liberation Sans", Arial, sans-serif' font-size="27.70" fill="#000" textLength="94.16" lengthAdjust="spacingAndGlyphs">13.90%</text>
<text x="481.70" y="917.10" font-family='"Liberation Sans", Arial, sans-serif' font-size="27.70" fill="#000" textLength="94.68" lengthAdjust="spacingAndGlyphs">20.38%</text>
<text x="614.11" y="1001.60" font-family='"Liberation Sans", Arial, sans-serif' font-size="27.70" fill="#000" textLength="94.37" lengthAdjust="spacingAndGlyphs">29.91%</text>
<text x="151.11" y="960.40" font-family='"DejaVu Serif", serif' font-size="23.80" font-style="italic" fill="#000" textLength="18.10" lengthAdjust="spacingAndGlyphs">σ</text>
<text x="168.01" y="968.00" font-family='"Liberation Serif", "Times New Roman", serif' font-size="16.30" fill="#000" textLength="11.86" lengthAdjust="spacingAndGlyphs">N</text>
<text x="179.51" y="961.60" font-family='"Liberation Serif", "Times New Roman", serif' font-size="26.00" fill="#000" textLength="17.95" lengthAdjust="spacingAndGlyphs">=</text>
<text x="198.18" y="960.40" font-family='"DejaVu Serif", serif' font-size="23.80" font-style="italic" fill="#000" textLength="16.96" lengthAdjust="spacingAndGlyphs">σ</text>
<text x="213.34" y="968.40" font-family='"Liberation Serif", "Times New Roman", serif' font-size="18.00" fill="#000" textLength="9.52" lengthAdjust="spacingAndGlyphs">0</text>
<text x="224.87" y="966.80" font-family='"Liberation Sans", Arial, sans-serif' font-size="30.00" fill="#000" textLength="10.34" lengthAdjust="spacingAndGlyphs">*</text>
<text x="236.56" y="960.40" font-family='"Liberation Sans", Arial, sans-serif' font-size="25.40" fill="#000" textLength="176.49" lengthAdjust="spacingAndGlyphs">exp(-0.00819N)</text>
<text x="150.49" y="1001.60" font-family='"Liberation Sans", Arial, sans-serif' font-size="24.50" font-style="italic" fill="#000" textLength="17.07" lengthAdjust="spacingAndGlyphs">R</text>
<text x="168.46" y="991.90" font-family='"Liberation Sans", Arial, sans-serif' font-size="17.40" fill="#000" textLength="9.29" lengthAdjust="spacingAndGlyphs">2</text>
<text x="178.24" y="1001.90" font-family='"Liberation Sans", Arial, sans-serif' font-size="25.30" fill="#000" textLength="78.09" lengthAdjust="spacingAndGlyphs">=0.986</text>
<line x1="148.60" y1="1073.00" x2="535.10" y2="1073.00" stroke="#555" stroke-width="1.5"/>
<line x1="535.10" y1="1073.00" x2="535.10" y2="1146.40" stroke="#999" stroke-width="1.5"/>
<line x1="148.60" y1="1072.40" x2="148.60" y2="1146.40" stroke="#000" stroke-width="1.2"/>
<line x1="148.00" y1="1146.40" x2="535.80" y2="1146.40" stroke="#000" stroke-width="1.3"/>
<line x1="171.70" y1="1092.50" x2="196.60" y2="1092.50" stroke="#0000ff" stroke-width="1.2"/>
<line x1="325.90" y1="1092.50" x2="351.00" y2="1092.50" stroke="#ff00ff" stroke-width="1.2"/>
<circle cx="183.40" cy="1127.00" r="7.5" fill="#ff0000" stroke="#000" stroke-width="1.6"/>
<line x1="308.30" y1="1127.00" x2="323.00" y2="1127.00" stroke="#ff0000" stroke-width="3"/>
<line x1="330.30" y1="1127.00" x2="332.70" y2="1127.00" stroke="#ff0000" stroke-width="3"/>
<line x1="340.00" y1="1127.00" x2="356.00" y2="1127.00" stroke="#ff0000" stroke-width="3"/>
<line x1="363.20" y1="1127.00" x2="365.70" y2="1127.00" stroke="#ff0000" stroke-width="3"/>
<text x="221.98" y="1101.80" font-family='"Liberation Sans", Arial, sans-serif' font-size="27.40" fill="#000" textLength="52.48" lengthAdjust="spacingAndGlyphs">Max</text>
<text x="375.57" y="1101.80" font-family='"Liberation Sans", Arial, sans-serif' font-size="27.40" fill="#000" textLength="46.97" lengthAdjust="spacingAndGlyphs">Min</text>
<text x="221.92" y="1136.00" font-family='"Liberation Sans", Arial, sans-serif' font-size="27.40" fill="#000" textLength="71.28" lengthAdjust="spacingAndGlyphs">Mean</text>
<text x="378.04" y="1136.00" font-family='"Liberation Sans", Arial, sans-serif' font-size="27.40" fill="#000" textLength="153.56" lengthAdjust="spacingAndGlyphs">Fitted Curve</text>
<polyline points="1038.30,702.20 1044.99,707.44 1051.68,712.65 1058.37,717.84 1065.06,723.02 1071.75,728.17 1078.44,733.31 1085.13,738.42 1091.82,743.52 1098.51,748.59 1105.20,753.65 1111.89,758.68 1118.58,763.70 1125.27,768.70 1131.96,773.67 1138.65,778.63 1145.34,783.57 1152.03,788.49 1158.72,793.39 1165.41,798.27 1172.10,803.13 1178.79,807.98 1185.48,812.80 1192.17,817.61 1198.86,822.39 1205.55,827.16 1212.24,831.91 1218.93,836.64 1225.62,841.36 1232.31,846.05 1239.00,850.73 1245.69,855.39 1252.38,860.03 1259.07,864.65 1265.76,869.26 1272.45,873.84 1279.14,878.41 1285.83,882.96 1292.52,887.50 1299.21,892.01 1305.90,896.51 1312.59,900.99 1319.28,905.45 1325.97,909.90 1332.66,914.33 1339.35,918.74 1346.04,923.14 1352.73,927.51 1359.42,931.87 1366.11,936.22 1372.80,940.54 1379.49,944.85 1386.18,949.15 1392.87,953.42 1399.56,957.68 1406.25,961.93 1412.94,966.15 1419.63,970.36 1426.32,974.56 1433.01,978.74 1439.70,982.90 1446.39,987.04 1453.08,991.17 1459.77,995.29 1466.46,999.38 1473.15,1003.46 1479.84,1007.53 1486.53,1011.58 1493.22,1015.61 1499.91,1019.63 1506.60,1023.64 1513.29,1027.62 1519.98,1031.59 1526.67,1035.55 1533.36,1039.49 1540.05,1043.42 1546.74,1047.33 1553.43,1051.22 1560.12,1055.10 1566.81,1058.97 1573.50,1062.82" fill="none" stroke="#ff0000" stroke-width="2.6" stroke-dasharray="14.3 7.1 4.2 6" stroke-dashoffset="30.7"/>
<line x1="1038.30" y1="702.90" x2="1573.50" y2="702.90" stroke="#000" stroke-width="2.2"/>
<line x1="1172.10" y1="702.60" x2="1172.10" y2="757.00" stroke="#000" stroke-width="2.2" stroke-dasharray="9 9.3"/>
<line x1="1305.90" y1="702.60" x2="1305.90" y2="850.00" stroke="#000" stroke-width="2.2" stroke-dasharray="9 9.3"/>
<line x1="1439.70" y1="702.60" x2="1439.70" y2="961.40" stroke="#000" stroke-width="2.2" stroke-dasharray="9 9.3"/>
<line x1="1573.50" y1="702.60" x2="1573.50" y2="1058.40" stroke="#000" stroke-width="2.2" stroke-dasharray="9 9.3"/>
<polygon points="1166.40,754.00 1172.10,759.50 1177.80,754.00 1172.70,782.00 1171.50,782.00" fill="#000" stroke="#000" stroke-width="0.8" stroke-linejoin="round"/>
<polygon points="1300.20,847.00 1305.90,852.50 1311.60,847.00 1306.50,875.00 1305.30,875.00" fill="#000" stroke="#000" stroke-width="0.8" stroke-linejoin="round"/>
<polygon points="1434.00,958.40 1439.70,963.90 1445.40,958.40 1440.30,986.40 1439.10,986.40" fill="#000" stroke="#000" stroke-width="0.8" stroke-linejoin="round"/>
<polygon points="1567.80,1055.40 1573.50,1060.90 1579.20,1055.40 1574.10,1083.40 1572.90,1083.40" fill="#000" stroke="#000" stroke-width="0.8" stroke-linejoin="round"/>
<line x1="1038.30" y1="683.10" x2="1038.30" y2="722.70" stroke="#000" stroke-width="2"/>
<line x1="1025.80" y1="683.10" x2="1050.80" y2="683.10" stroke="#0000ff" stroke-width="2.2"/>
<line x1="1025.80" y1="722.70" x2="1050.80" y2="722.70" stroke="#ff00ff" stroke-width="2.2"/>
<line x1="1172.10" y1="752.70" x2="1172.10" y2="799.20" stroke="#000" stroke-width="2"/>
<line x1="1159.60" y1="752.70" x2="1184.60" y2="752.70" stroke="#0000ff" stroke-width="2.2"/>
<line x1="1159.60" y1="799.20" x2="1184.60" y2="799.20" stroke="#ff00ff" stroke-width="2.2"/>
<line x1="1305.90" y1="853.00" x2="1305.90" y2="899.60" stroke="#000" stroke-width="2"/>
<line x1="1293.40" y1="853.00" x2="1318.40" y2="853.00" stroke="#0000ff" stroke-width="2.2"/>
<line x1="1293.40" y1="899.60" x2="1318.40" y2="899.60" stroke="#ff00ff" stroke-width="2.2"/>
<line x1="1439.70" y1="944.60" x2="1439.70" y2="1014.80" stroke="#000" stroke-width="2"/>
<line x1="1427.20" y1="944.60" x2="1452.20" y2="944.60" stroke="#0000ff" stroke-width="2.2"/>
<line x1="1427.20" y1="1014.80" x2="1452.20" y2="1014.80" stroke="#ff00ff" stroke-width="2.2"/>
<line x1="1573.50" y1="1064.60" x2="1573.50" y2="1109.60" stroke="#000" stroke-width="2"/>
<line x1="1561.00" y1="1064.60" x2="1586.00" y2="1064.60" stroke="#0000ff" stroke-width="2.2"/>
<line x1="1561.00" y1="1109.60" x2="1586.00" y2="1109.60" stroke="#ff00ff" stroke-width="2.2"/>
<circle cx="1038.30" cy="702.20" r="7.6" fill="#ff0000" stroke="#000" stroke-width="1.8"/>
<circle cx="1172.10" cy="780.50" r="7.6" fill="#ff0000" stroke="#000" stroke-width="1.8"/>
<circle cx="1305.90" cy="873.50" r="7.6" fill="#ff0000" stroke="#000" stroke-width="1.8"/>
<circle cx="1439.70" cy="984.90" r="7.6" fill="#ff0000" stroke="#000" stroke-width="1.8"/>
<circle cx="1573.50" cy="1081.90" r="7.6" fill="#ff0000" stroke="#000" stroke-width="1.8"/>
<rect x="971.30" y="639.60" width="669.40" height="539.00" fill="none" stroke="#000" stroke-width="2.2"/>
<line x1="1038.30" y1="1178.60" x2="1038.30" y2="1168.10" stroke="#000" stroke-width="2"/>
<line x1="1172.10" y1="1178.60" x2="1172.10" y2="1168.10" stroke="#000" stroke-width="2"/>
<line x1="1305.90" y1="1178.60" x2="1305.90" y2="1168.10" stroke="#000" stroke-width="2"/>
<line x1="1439.70" y1="1178.60" x2="1439.70" y2="1168.10" stroke="#000" stroke-width="2"/>
<line x1="1573.50" y1="1178.60" x2="1573.50" y2="1168.10" stroke="#000" stroke-width="2"/>
<line x1="971.30" y1="1099.65" x2="982.00" y2="1099.65" stroke="#000" stroke-width="2"/>
<line x1="971.30" y1="1020.40" x2="982.00" y2="1020.40" stroke="#000" stroke-width="2"/>
<line x1="971.30" y1="941.15" x2="982.00" y2="941.15" stroke="#000" stroke-width="2"/>
<line x1="971.30" y1="861.90" x2="982.00" y2="861.90" stroke="#000" stroke-width="2"/>
<line x1="971.30" y1="782.65" x2="982.00" y2="782.65" stroke="#000" stroke-width="2"/>
<line x1="971.30" y1="703.40" x2="982.00" y2="703.40" stroke="#000" stroke-width="2"/>
<text x="934.84" y="1185.10" font-family='"Liberation Sans", Arial, sans-serif' font-size="23.00" fill="#000" textLength="25.33" lengthAdjust="spacingAndGlyphs">55</text>
<text x="934.84" y="1105.85" font-family='"Liberation Sans", Arial, sans-serif' font-size="23.00" fill="#000" textLength="25.33" lengthAdjust="spacingAndGlyphs">60</text>
<text x="934.84" y="1026.60" font-family='"Liberation Sans", Arial, sans-serif' font-size="23.00" fill="#000" textLength="25.33" lengthAdjust="spacingAndGlyphs">65</text>
<text x="934.84" y="947.35" font-family='"Liberation Sans", Arial, sans-serif' font-size="23.00" fill="#000" textLength="25.33" lengthAdjust="spacingAndGlyphs">70</text>
<text x="934.84" y="868.10" font-family='"Liberation Sans", Arial, sans-serif' font-size="23.00" fill="#000" textLength="25.33" lengthAdjust="spacingAndGlyphs">75</text>
<text x="934.84" y="788.85" font-family='"Liberation Sans", Arial, sans-serif' font-size="23.00" fill="#000" textLength="25.33" lengthAdjust="spacingAndGlyphs">80</text>
<text x="934.84" y="709.60" font-family='"Liberation Sans", Arial, sans-serif' font-size="23.00" fill="#000" textLength="25.33" lengthAdjust="spacingAndGlyphs">85</text>
<text x="1032.41" y="1208.40" font-family='"Liberation Sans", Arial, sans-serif' font-size="23.00" fill="#000" textLength="12.41" lengthAdjust="spacingAndGlyphs">0</text>
<text x="1159.63" y="1208.40" font-family='"Liberation Sans", Arial, sans-serif' font-size="23.00" fill="#000" textLength="24.82" lengthAdjust="spacingAndGlyphs">10</text>
<text x="1293.71" y="1208.40" font-family='"Liberation Sans", Arial, sans-serif' font-size="23.00" fill="#000" textLength="24.82" lengthAdjust="spacingAndGlyphs">20</text>
<text x="1427.62" y="1208.40" font-family='"Liberation Sans", Arial, sans-serif' font-size="23.00" fill="#000" textLength="24.82" lengthAdjust="spacingAndGlyphs">30</text>
<text x="1561.59" y="1208.40" font-family='"Liberation Sans", Arial, sans-serif' font-size="23.00" fill="#000" textLength="24.82" lengthAdjust="spacingAndGlyphs">40</text>
<text x="1086.55" y="1251.00" font-family='"Liberation Sans", Arial, sans-serif' font-size="27.60" fill="#000" textLength="439.03" lengthAdjust="spacingAndGlyphs">Freeze-thaw Weathering Cycles(N)</text>
<text transform="rotate(-90)" x="-1134.50" y="923.00" font-family='"Liberation Sans", Arial, sans-serif' font-size="27.60" fill="#000" textLength="451.61" lengthAdjust="spacingAndGlyphs">Triaxial Compressive Strength(MPa)</text>
<rect x="928.10" y="640.10" width="43.40" height="38.70" fill="#000"/>
<text x="931.73" y="669.10" font-family='"Liberation Sans", Arial, sans-serif' font-size="27.90" fill="#fff" textLength="36.11" lengthAdjust="spacingAndGlyphs">(d)</text>
<text x="1091.60" y="733.60" font-family='"Liberation Sans", Arial, sans-serif' font-size="27.70" fill="#000" textLength="78.08" lengthAdjust="spacingAndGlyphs">5.82%</text>
<text x="1210.40" y="822.90" font-family='"Liberation Sans", Arial, sans-serif' font-size="27.70" fill="#000" textLength="95.09" lengthAdjust="spacingAndGlyphs">12.70%</text>
<text x="1344.89" y="915.00" font-family='"Liberation Sans", Arial, sans-serif' font-size="27.70" fill="#000" textLength="95.50" lengthAdjust="spacingAndGlyphs">20.95%</text>
<text x="1478.60" y="1001.30" font-family='"Liberation Sans", Arial, sans-serif' font-size="27.70" fill="#000" textLength="93.27" lengthAdjust="spacingAndGlyphs">30.57%</text>
<text x="1014.51" y="962.40" font-family='"DejaVu Serif", serif' font-size="23.80" font-style="italic" fill="#000" textLength="18.10" lengthAdjust="spacingAndGlyphs">σ</text>
<text x="1031.41" y="970.00" font-family='"Liberation Serif", "Times New Roman", serif' font-size="16.30" fill="#000" textLength="11.86" lengthAdjust="spacingAndGlyphs">N</text>
<text x="1042.91" y="963.60" font-family='"Liberation Serif", "Times New Roman", serif' font-size="26.00" fill="#000" textLength="17.95" lengthAdjust="spacingAndGlyphs">=</text>
<text x="1061.58" y="962.40" font-family='"DejaVu Serif", serif' font-size="23.80" font-style="italic" fill="#000" textLength="16.96" lengthAdjust="spacingAndGlyphs">σ</text>
<text x="1076.74" y="970.40" font-family='"Liberation Serif", "Times New Roman", serif' font-size="18.00" fill="#000" textLength="9.52" lengthAdjust="spacingAndGlyphs">0</text>
<text x="1088.27" y="968.80" font-family='"Liberation Sans", Arial, sans-serif' font-size="30.00" fill="#000" textLength="10.34" lengthAdjust="spacingAndGlyphs">*</text>
<text x="1099.96" y="962.40" font-family='"Liberation Sans", Arial, sans-serif' font-size="25.40" fill="#000" textLength="176.49" lengthAdjust="spacingAndGlyphs">exp(-0.00778N)</text>
<text x="1013.89" y="1003.90" font-family='"Liberation Sans", Arial, sans-serif' font-size="24.50" font-style="italic" fill="#000" textLength="17.07" lengthAdjust="spacingAndGlyphs">R</text>
<text x="1031.86" y="994.20" font-family='"Liberation Sans", Arial, sans-serif' font-size="17.40" fill="#000" textLength="9.29" lengthAdjust="spacingAndGlyphs">2</text>
<text x="1041.63" y="1004.20" font-family='"Liberation Sans", Arial, sans-serif' font-size="25.30" fill="#000" textLength="78.09" lengthAdjust="spacingAndGlyphs">=0.985</text>
<line x1="1011.80" y1="1073.00" x2="1398.30" y2="1073.00" stroke="#555" stroke-width="1.5"/>
<line x1="1398.30" y1="1073.00" x2="1398.30" y2="1146.40" stroke="#999" stroke-width="1.5"/>
<line x1="1011.80" y1="1072.40" x2="1011.80" y2="1146.40" stroke="#000" stroke-width="1.2"/>
<line x1="1011.20" y1="1146.40" x2="1399.00" y2="1146.40" stroke="#000" stroke-width="1.3"/>
<line x1="1034.90" y1="1092.50" x2="1059.80" y2="1092.50" stroke="#0000ff" stroke-width="1.2"/>
<line x1="1189.10" y1="1092.50" x2="1214.20" y2="1092.50" stroke="#ff00ff" stroke-width="1.2"/>
<circle cx="1046.60" cy="1127.00" r="7.5" fill="#ff0000" stroke="#000" stroke-width="1.6"/>
<line x1="1171.50" y1="1127.00" x2="1186.20" y2="1127.00" stroke="#ff0000" stroke-width="3"/>
<line x1="1193.50" y1="1127.00" x2="1195.90" y2="1127.00" stroke="#ff0000" stroke-width="3"/>
<line x1="1203.20" y1="1127.00" x2="1219.20" y2="1127.00" stroke="#ff0000" stroke-width="3"/>
<line x1="1226.40" y1="1127.00" x2="1228.90" y2="1127.00" stroke="#ff0000" stroke-width="3"/>
<text x="1085.18" y="1101.80" font-family='"Liberation Sans", Arial, sans-serif' font-size="27.40" fill="#000" textLength="52.48" lengthAdjust="spacingAndGlyphs">Max</text>
<text x="1238.77" y="1101.80" font-family='"Liberation Sans", Arial, sans-serif' font-size="27.40" fill="#000" textLength="46.97" lengthAdjust="spacingAndGlyphs">Min</text>
<text x="1085.12" y="1136.00" font-family='"Liberation Sans", Arial, sans-serif' font-size="27.40" fill="#000" textLength="71.28" lengthAdjust="spacingAndGlyphs">Mean</text>
<text x="1241.24" y="1136.00" font-family='"Liberation Sans", Arial, sans-serif' font-size="27.40" fill="#000" textLength="153.56" lengthAdjust="spacingAndGlyphs">Fitted Curve</text>
</svg>
</body></html>
